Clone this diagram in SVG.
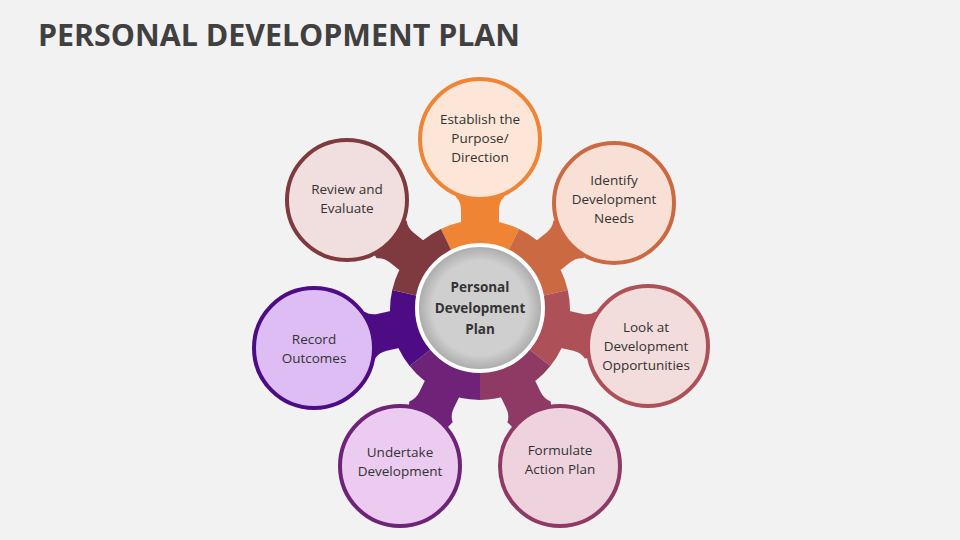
<svg xmlns="http://www.w3.org/2000/svg" width="960" height="540" viewBox="0 0 960 540">
<defs>
<style>
.t{font-family:"Open Sans","Liberation Sans",sans-serif;font-size:13.5px;fill:#333;text-anchor:middle}
.c{stroke-width:4}
</style>
<path id="seg" d="M-39.05,-81.09 A90 90 0 0 1 39.05,-81.09 L26.03,-54.06 A60 60 0 0 0 -26.03,-54.06 Z M-19,-84 L-19,-100 Q-19,-108 -24,-113 L-20,-125 L20,-125 L24,-113 Q19,-108 19,-100 L19,-84 Z"/>
<radialGradient id="g" cx="50%" cy="50%" r="50%"><stop offset="0.75" stop-color="#d0cfd0"/><stop offset="1" stop-color="#a9a8a9"/></radialGradient>
</defs>
<rect width="960" height="540" fill="#f2f2f2"/>
<text x="38" y="46" font-family="'Open Sans','Liberation Sans',sans-serif" font-weight="bold" font-size="30" fill="#404040" textLength="482" lengthAdjust="spacingAndGlyphs">PERSONAL DEVELOPMENT PLAN</text>
<g id="connectors">
<use href="#seg" transform="translate(480,310) rotate(0)" fill="#ee8434"/>
<use href="#seg" transform="translate(480,310) rotate(51.43)" fill="#cb6942"/>
<use href="#seg" transform="translate(480,310) rotate(102.86)" fill="#ae5057"/>
<use href="#seg" transform="translate(480,310) rotate(154.29)" fill="#8e3a64"/>
<use href="#seg" transform="translate(480,310) rotate(205.71)" fill="#6f2378"/>
<use href="#seg" transform="translate(480,310) rotate(257.14)" fill="#4e0c84"/>
<use href="#seg" transform="translate(480,310) rotate(308.57)" fill="#7e3a3e"/>
</g>
<g id="center">
<circle cx="480" cy="308" r="63" fill="url(#g)" stroke="#fff" stroke-width="4"/>
<text class="t" x="480" y="292" font-weight="bold" font-size="16" fill="#404040">Personal</text>
<text class="t" x="480" y="313" font-weight="bold" font-size="16" fill="#404040">Development</text>
<text class="t" x="480" y="334" font-weight="bold" font-size="16" fill="#404040">Plan</text>
</g>
<g id="n1"><circle class="c" cx="480" cy="139" r="60" fill="#fde6d7" stroke="#ee8434"/>
<text class="t" x="480" y="124">Establish the</text><text class="t" x="480" y="143">Purpose/</text><text class="t" x="480" y="162">Direction</text></g>
<g id="n2"><circle class="c" cx="614" cy="203" r="60" fill="#f8e0d6" stroke="#cb6942"/>
<text class="t" x="614" y="185">Identify</text><text class="t" x="614" y="204">Development</text><text class="t" x="614" y="223">Needs</text></g>
<g id="n3"><circle class="c" cx="648" cy="346" r="60" fill="#f2dcdc" stroke="#ae5057"/>
<text class="t" x="646" y="332">Look at</text><text class="t" x="646" y="351">Development</text><text class="t" x="646" y="370">Opportunities</text></g>
<g id="n4"><circle class="c" cx="560" cy="466" r="60" fill="#eed3df" stroke="#8e3a64"/>
<text class="t" x="560" y="455">Formulate</text><text class="t" x="560" y="474">Action Plan</text></g>
<g id="n5"><circle class="c" cx="400" cy="466" r="60" fill="#ebcbef" stroke="#6f2378"/>
<text class="t" x="400" y="457">Undertake</text><text class="t" x="400" y="476">Development</text></g>
<g id="n6"><circle class="c" cx="314" cy="348" r="60" fill="#ddbdf3" stroke="#4e0c84"/>
<text class="t" x="314" y="344">Record</text><text class="t" x="314" y="363">Outcomes</text></g>
<g id="n7"><circle class="c" cx="347" cy="200" r="60" fill="#f1dede" stroke="#7e3a3e"/>
<text class="t" x="347" y="194">Review and</text><text class="t" x="347" y="213">Evaluate</text></g>
</svg>
